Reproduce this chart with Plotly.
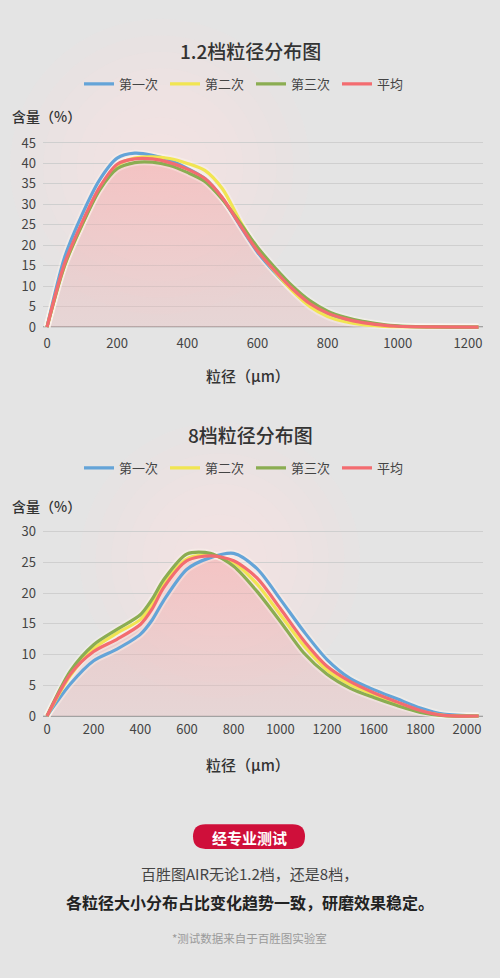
import plotly.graph_objects as go

FONT = "Noto Sans CJK SC"
W, H = 500, 978
BG = "#e4e4e4"

series_names = ["第一次", "第二次", "第三次", "平均"]
colors = ["#64a4d8", "#f1e552", "#8bad52", "#f36c70"]

# ---- 1.2档 data (particle size µm, content %) ----
x12 = [0, 50, 100, 150, 200, 250, 300, 350, 400, 450, 500, 550, 600,
       650, 700, 750, 800, 850, 900, 950, 1000, 1100, 1230]
y12_first = [0, 17.0, 27.5, 36.0, 41.3, 42.5, 42.0, 40.8, 38.8, 36.3, 31.5, 24.8, 18.3,
             13.3, 9.0, 5.5, 3.2, 1.8, 1.0, 0.5, 0.2, 0.05, 0]
y12_second = [0, 15.0, 25.0, 33.8, 39.5, 41.3, 41.6, 41.2, 40.0, 38.3, 33.8, 26.0, 19.0,
              13.5, 8.8, 5.0, 2.6, 1.3, 0.6, 0.25, 0.1, 0, 0]
y12_third = [0, 15.0, 25.0, 33.5, 38.7, 40.2, 40.3, 39.5, 37.8, 35.6, 31.2, 25.5, 19.5,
             14.5, 10.0, 6.4, 3.9, 2.4, 1.4, 0.75, 0.3, 0.05, 0]
y12_avg = [0, 15.5, 25.6, 34.2, 39.8, 41.1, 41.1, 40.2, 38.6, 36.3, 31.6, 25.0, 18.6,
           13.7, 9.3, 5.7, 3.4, 2.0, 1.1, 0.55, 0.2, 0.05, 0]
x12_ticks = [0, 200, 400, 600, 800, 1000, 1200]
y12_ticks = [0, 5, 10, 15, 20, 25, 30, 35, 40, 45]

# ---- 8档 data ----
x8 = [0, 100, 200, 300, 400, 450, 500, 600, 700, 800, 900, 1000, 1100, 1200,
      1300, 1400, 1500, 1600, 1700, 1850]
y8_first = [0, 5.2, 9.0, 10.9, 13.3, 15.6, 18.8, 23.9, 25.8, 26.5, 24.0, 19.0, 13.8, 9.2,
            6.1, 4.3, 2.8, 1.3, 0.3, 0]
y8_second = [0, 6.6, 11.0, 13.5, 15.7, 18.2, 21.5, 25.6, 26.2, 25.0, 21.5, 16.5, 11.5, 7.5,
             5.1, 3.5, 2.0, 0.8, 0.1, 0]
y8_third = [0, 7.3, 11.6, 14.1, 16.5, 19.0, 22.2, 26.4, 26.5, 24.4, 20.3, 15.4, 10.3, 6.8,
            4.5, 3.0, 1.7, 0.6, 0.05, 0]
y8_avg = [0, 6.8, 10.5, 12.5, 14.9, 17.4, 20.9, 25.3, 26.1, 25.3, 22.5, 17.5, 12.3, 8.1,
          5.6, 3.8, 2.3, 0.9, 0.1, 0]
x8_tickvals = [0, 200, 400, 600, 800, 1000, 1200, 1400, 1600, 1800]
x8_ticktext = ["0", "200", "400", "600", "800", "1000", "1200", "1600", "1800", "2000"]
y8_ticks = [0, 5, 10, 15, 20, 25, 30]


def py(p):
    return 1 - p / H


fig = go.Figure()


def add_chart(xs, ys_list, xa, ya, legend, fill_top):
    # area under average
    fig.add_trace(go.Scatter(
        x=xs, y=ys_list[3], mode="lines", line=dict(width=0, shape="spline", smoothing=0.8),
        fill="tozeroy",
        fillgradient=dict(type="vertical",
                          colorscale=[[0, "rgba(236,180,180,0.30)"], [1, "rgba(246,165,165,0.55)"]],
                          start=0, stop=fill_top),
        xaxis=xa, yaxis=ya, showlegend=False, hoverinfo="skip"))
    # glow
    for ys in ys_list:
        fig.add_trace(go.Scatter(
            x=xs, y=ys, mode="lines",
            line=dict(color="rgba(255,248,240,0.35)", width=7, shape="spline", smoothing=0.8),
            xaxis=xa, yaxis=ya, showlegend=False, hoverinfo="skip"))
    for name, ys, c in zip(series_names, ys_list, colors):
        fig.add_trace(go.Scatter(
            x=xs, y=ys, name=name, mode="lines",
            line=dict(color=c, width=3.2, shape="spline", smoothing=0.8),
            xaxis=xa, yaxis=ya, legend=legend))


# glow blobs behind charts
def glow(cx, cy, rmax, n=9, color="rgba(255,228,228,0.10)"):
    for i in range(n):
        r = rmax * (n - i) / n
        fig.add_shape(type="circle", xref="paper", yref="paper",
                      x0=(cx - r) / W, x1=(cx + r) / W, y0=py(cy + r), y1=py(cy - r),
                      fillcolor=color, line=dict(width=0), layer="below")


glow(160, 160, 150)
glow(220, 560, 140)

add_chart(x12, [y12_first, y12_second, y12_third, y12_avg], "x", "y", "legend", 45)
add_chart(x8, [y8_first, y8_second, y8_third, y8_avg], "x2", "y2", "legend2", 30)

axis_common = dict(showline=False, zeroline=False, ticks="", tickfont=dict(family=FONT, size=13, color="#444"))

legend_common = dict(orientation="h", x=0.502, xanchor="center", yanchor="middle",
                     font=dict(family=FONT, size=13, color="#444"), itemwidth=30,
                     bgcolor="rgba(0,0,0,0)", entrywidth=41, tracegroupgap=0)

fig.update_layout(
    width=W, height=H, margin=dict(l=0, r=0, t=0, b=0),
    paper_bgcolor=BG, plot_bgcolor="rgba(0,0,0,0)",
    font=dict(family=FONT, color="#333"),
    xaxis=dict(domain=[43 / W, 483 / W], range=[-11.4, 1242.9], tickvals=x12_ticks,
               showgrid=False, anchor="y", ticklabelstandoff=4, **axis_common),
    yaxis=dict(domain=[py(325.5), py(134.8)], range=[-0.6, 45.3], tickvals=y12_ticks,
               showgrid=True, gridcolor="#cfcfcf", gridwidth=1, anchor="x",
               ticklabelstandoff=6, **axis_common),
    xaxis2=dict(domain=[43 / W, 483 / W], range=[-17.1, 1868.6], tickvals=x8_tickvals,
                ticktext=x8_ticktext, showgrid=False, anchor="y2", ticklabelstandoff=2, **axis_common),
    yaxis2=dict(domain=[py(720.5), py(529.75)], range=[-0.4, 30.2], tickvals=y8_ticks,
                showgrid=True, gridcolor="#cfcfcf", gridwidth=1, anchor="x2",
                ticklabelstandoff=6, **axis_common),
    legend=dict(y=py(76), **legend_common),
    legend2=dict(y=py(466), **legend_common),
    showlegend=True,
)

# baselines (0 lines)
fig.add_shape(type="line", xref="x domain", yref="y", x0=0, x1=1, y0=0, y1=0,
              line=dict(color="#8c8c8c", width=1.5), layer="below")
fig.add_shape(type="line", xref="x2 domain", yref="y2", x0=0, x1=1, y0=0, y1=0,
              line=dict(color="#8c8c8c", width=1.5), layer="below")


def txt(text, x, y, size, color="#333", weight=400, xanchor="center"):
    fig.add_annotation(text=text, x=x / W, y=py(y), xref="paper", yref="paper",
                       xanchor=xanchor, yanchor="middle", showarrow=False,
                       font=dict(family=FONT, size=size, color=color, weight=weight))


txt("1.2档粒径分布图", 250, 42, 19, "#333", 500)
txt("含量（%）", 10, 109, 14, "#333", 500, "left")
txt("粒径（μm）", 248, 372, 15, "#333", 500)

txt("8档粒径分布图", 250, 432, 19, "#333", 500)
txt("含量（%）", 10, 505, 14, "#333", 500, "left")
txt("粒径（μm）", 248, 767, 15, "#333", 500)

# red pill
x0, x1, y0, y1 = 193, 305, 828, 853
r = (y1 - y0) / 2


def P(x, y):
    return f"{x / W:.5f},{py(y):.5f}"


path = (f"M {P(x0 + r, y0)} L {P(x1 - r, y0)} Q {P(x1, y0)} {P(x1, y0 + r)} "
        f"Q {P(x1, y1)} {P(x1 - r, y1)} L {P(x0 + r, y1)} Q {P(x0, y1)} {P(x0, y0 + r)} "
        f"Q {P(x0, y0)} {P(x0 + r, y0)} Z")
fig.add_shape(type="path", path=path, xref="paper", yref="paper",
              fillcolor="#cf0f3a", line=dict(width=0))
txt("经专业测试", 249, 841, 15, "#ffffff", 700)
txt("百胜图AIR无论1.2档，还是8档，", 249, 878, 15, "#444", 400)
txt("各粒径大小分布占比变化趋势一致，研磨效果稳定。", 250, 907, 16, "#222", 700)
txt("*测试数据来自于百胜图实验室", 249, 943, 11.5, "#9a9a9a", 400)

fig.write_html(
    "out.html",
    config={"displayModeBar": False},
    post_script="document.body.style.margin='0px';",
)
